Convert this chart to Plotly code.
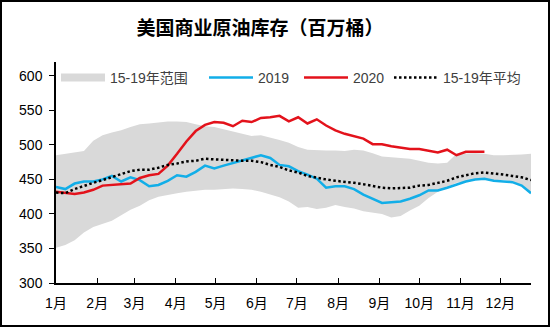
import pandas as pd
import plotly.graph_objects as go

# Weekly US commercial crude inventories, million barrels
weeks = pd.date_range("2019-01-01", periods=52, freq="7D")

range_high = [485, 487, 488, 491, 506, 514, 518, 521, 526, 530, 531, 533, 534, 534,
              533, 530, 527, 526, 523, 520, 516, 513, 514, 511, 507, 503, 497, 493,
              492, 492, 492, 491, 493, 492, 488, 483, 482, 481, 480, 477, 474, 473,
              474, 487, 488, 488, 487, 485, 485, 485, 486, 487]
range_low = [351, 355, 362, 373, 381, 385, 390, 398, 406, 412, 420, 425, 428, 430,
             432, 434, 435, 435, 436, 437, 436, 435, 432, 428, 424, 418, 409, 410,
             407, 409, 413, 410, 408, 404, 402, 400, 395, 397, 405, 412, 423, 432,
             439, 445, 447, 449, 449, 449, 449, 447, 442, 430]
stocks_2019 = [439, 436, 444, 447, 447, 450, 455, 447, 453, 449, 440, 442, 448, 456,
               454, 461, 470, 466, 470, 474, 478, 482, 485, 481, 471, 469, 462, 457,
               451, 438, 440, 440, 436, 428, 422, 416, 417, 418, 422, 427, 434, 434,
               438, 443, 447, 450, 451, 448, 447, 446, 441, 430]
stocks_2020 = [432, 430, 429, 431, 435, 441, 442, 444, 444, 452, 456, 458, 470, 487,
               505, 520, 529, 533, 532, 527, 535, 533, 539, 540, 542, 534, 540, 531,
               537, 528, 521, 516, 513, 509, 501, 501, 498, 496, 494, 494, 492, 489,
               493, 485, 490, 490, 490]
avg_15_19 = [431, 430, 436, 441, 445, 449, 453, 457, 462, 464, 464, 467, 471, 473,
             476, 477, 480, 479, 478, 477, 477, 477, 475, 471, 468, 463, 460, 455,
             452, 450, 448, 447, 445, 443, 440, 438, 437, 437, 438, 441, 442, 445,
             448, 453, 456, 459, 460, 459, 457, 455, 453, 449]

month_ticks = pd.date_range("2019-01-01", periods=12, freq="MS")
month_labels = [f"{m}月" for m in range(1, 13)]
y_ticks = [300, 350, 400, 450, 500, 550, 600]

FONT = "Arial, Liberation Sans, Noto Sans CJK SC, sans-serif"
BAND = "#d9d9d9"

fig = go.Figure()
# 5-year range band: lower edge, then upper edge filled down to it
fig.add_trace(go.Scatter(x=weeks, y=range_low, mode="lines", line=dict(width=0),
                         showlegend=False, hoverinfo="skip", legendgroup="band"))
fig.add_trace(go.Scatter(x=weeks, y=range_high, mode="lines", line=dict(width=0),
                         fill="tonexty", fillcolor=BAND, showlegend=False,
                         legendgroup="band", name="15-19年范围"))
# legend key for the band, drawn as a thick bar
fig.add_trace(go.Scatter(x=[None], y=[None], mode="lines", legendgroup="band",
                         line=dict(color=BAND, width=8), name="15-19年范围",
                         legend="legend"))
fig.add_trace(go.Scatter(x=weeks, y=stocks_2019, mode="lines",
                         line=dict(color="#12aee8", width=2.5), name="2019",
                         legend="legend2"))
fig.add_trace(go.Scatter(x=weeks[:len(stocks_2020)], y=stocks_2020, mode="lines",
                         line=dict(color="#e3121b", width=2.5), name="2020",
                         legend="legend3"))
fig.add_trace(go.Scatter(x=weeks, y=avg_15_19, mode="lines",
                         line=dict(color="#000000", width=2.5, dash="2.5px,2.5px"),
                         name="15-19年平均", legend="legend4"))

L, R, T, B = 56, 19, 62, 44
W, H = 550, 327
pw, ph = W - L - R, H - T - B


def legend_at(px):
    # one legend box per entry, placed so its key starts at pixel column px
    return dict(orientation="h", traceorder="normal", x=(px - 6 - L) / pw,
                xanchor="left", y=1.0, yanchor="top", bgcolor="rgba(0,0,0,0)",
                font=dict(family=FONT, size=14, color="#404040"), itemwidth=44)


fig.update_layout(
    width=W, height=H,
    margin=dict(l=L, r=R, t=T, b=B),
    paper_bgcolor="white", plot_bgcolor="white",
    font=dict(family=FONT, size=14, color="#000000"),
    title=dict(text="<b>美国商业原油库存（百万桶）</b>", x=260 / W, xanchor="center",
               y=1 - 28 / H, yanchor="middle",
               font=dict(family="Noto Sans CJK SC", size=19, color="#000000")),
    showlegend=True,
    legend=legend_at(62),
    legend2=legend_at(210),
    legend3=legend_at(305),
    legend4=legend_at(395),
    xaxis=dict(type="date", range=[weeks[0], weeks[-1]], tickmode="array",
               tickvals=month_ticks, ticktext=month_labels, ticks="inside",
               ticklen=5, tickcolor="#000", showline=True, linecolor="#000",
               linewidth=1.5, showgrid=False, zeroline=False, ticklabelstandoff=6),
    yaxis=dict(range=[300, 620], tickmode="array", tickvals=y_ticks, ticks="outside",
               ticklen=5, tickcolor="#000", showline=True, linecolor="#000",
               linewidth=1.5, showgrid=False, zeroline=False, ticklabelstandoff=4),
    shapes=[dict(type="rect", xref="paper", yref="paper",
                 x0=-(L - 1) / pw, x1=(W - L - 1) / pw,
                 y0=-(B - 1) / ph, y1=1 + (T - 1) / ph,
                 line=dict(color="#000", width=2), layer="above")],
)

fig.write_html("out.html")
